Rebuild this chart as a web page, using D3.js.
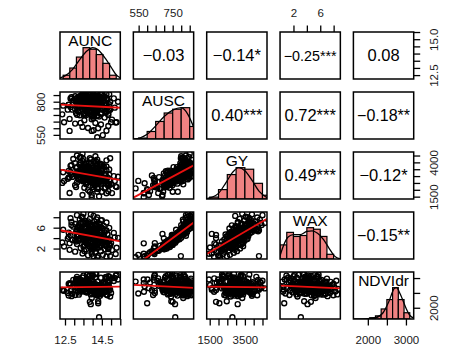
<!DOCTYPE html>
<html>
<head>
<meta charset="utf-8">
<script src="https://cdn.jsdelivr.net/npm/d3@7"></script>
<style>
  body { margin: 0; background: #fff; }
  svg { display: block; }
  text { font-family: "Liberation Sans", Arial, sans-serif; }
</style>
</head>
<body>
<svg id="chart" width="474" height="353"></svg>
<script>
// variable names on the diagonal
const varNames = ["AUNC", "AUSC", "GY", "WAX", "NDVIdr"];

const aunc = [14.25, 14.75, 14.05, 14.95, 13.75, 14.55, 15.25, 13.45, 14.15, 14.85, 13.05, 14.45, 13.95, 15.05, 12.75, 13.65, 14.65, 14.15, 13.35, 15.3,
  14.35, 13.85, 12.45, 14.75, 14.05, 14.95, 13.55, 14.25, 13.15, 14.55, 12.75, 15.0, 14.35, 13.6, 14.0, 13.1, 14.7, 13.8, 14.3, 12.9,
  14.9, 13.5, 14.1, 13.3, 14.5, 13.9, 15.2, 12.7, 14.2, 13.7, 14.6, 13.2, 14.0, 14.8, 13.4, 13.95, 14.15, 13.45, 12.7, 14.4,
  13.65, 13.95, 13.15, 14.75, 13.75, 12.4, 14.25, 13.35, 14.05, 14.9, 13.55, 14.45, 12.95, 13.85, 14.6, 13.25, 14.15, 13.85, 13.95, 13.05,
  14.35, 13.45, 14.75, 12.85, 14.1, 13.6, 14.5, 13.3, 13.85, 12.8, 14.25, 13.4, 14.05, 13.15, 13.9, 13.5, 14.15, 13.85, 14.45, 13.25,
  14.85, 14.0, 13.55, 14.7, 12.35, 15.38, 13.95, 14.3, 13.75, 14.1,
  14.05, 14.45, 13.6, 14.6, 13.4, 14.1, 13.65, 14.25, 13.5, 14.15, 14.85, 13.2, 14.2, 13.7, 14.35, 13.8, 13.5, 14.8, 13.65, 14.25,
  13.05, 13.9, 14.55, 13.3, 14.0, 14.35, 13.6, 14.65, 13.15, 14.15, 13.7, 14.45, 13.75, 14.0, 13.3, 14.9, 13.6, 14.15, 13.95, 14.2,
  12.8, 14.9, 13.35, 14.1, 13.7, 14.25, 13.25, 14.6, 13.8, 14.05, 13.55, 14.35, 13.8, 14.25, 13.45, 15.15, 13.1, 14.2, 13.9, 14.0,
  12.65, 14.55, 13.45, 14.15, 13.55, 14.7, 13.2, 14.8, 13.85, 14.2, 13.55, 14.45, 12.85, 14.25, 13.75, 14.15, 13.65, 14.45, 13.2, 13.85,
  14.9, 13.5, 14.25, 13.65, 14.65, 13.4, 13.9, 14.1, 14.4, 13.45, 14.15, 13.15, 14.7, 13.85, 14.2, 13.7, 14.0, 13.45, 14.45, 13.9];
const ausc = [532, 581, 585, 798, 602, 548, 643, 610, 640, 617, 635, 628, 668, 665, 670, 700, 680, 715, 640, 645,
  688, 733, 645, 722, 676, 740, 750, 694, 702, 741, 580, 645, 765, 710, 755, 715, 720, 772, 742, 740,
  748, 790, 748, 698, 780, 764, 755, 776, 771, 752, 828, 763, 745, 812, 815, 690, 776, 820, 778, 834,
  785, 812, 820, 824, 826, 770, 845, 818, 800, 856, 852, 810, 810, 848, 843, 838, 800, 750, 842, 841,
  825, 850, 858, 835, 812, 846, 858, 810, 852, 825, 860, 835, 856, 828, 859, 840, 735, 795, 705, 750,
  710, 815, 660, 780, 705, 800, 580, 600, 745, 790,
  690, 715, 742, 780, 795, 820, 805, 838, 770, 728, 700, 732, 788, 812, 826, 850, 708, 755, 778, 800,
  745, 822, 752, 820, 700, 785, 830, 832, 775, 745, 722, 770, 855, 796, 795, 738, 762, 838, 690, 808,
  760, 780, 845, 725, 802, 828, 725, 810, 818, 755, 700, 842, 775, 733, 825, 825, 795, 858, 740, 787,
  740, 830, 792, 770, 850, 732, 812, 818, 820, 748, 803, 777, 822, 695, 768, 812, 735, 856, 770, 826,
  765, 805, 760, 848, 745, 783, 835, 710, 795, 860, 775, 800, 770, 800, 843, 738, 812, 765, 828, 788];
const gy = [2100, 1750, 2480, 4300, 1980, 2650, 2250, 1620, 2870, 1900, 2330, 3050, 2560, 1760, 2920, 2400, 2100, 3230, 2750, 2200,
  1520, 2980, 2640, 3400, 2050, 2690, 3150, 1860, 2530, 2890, 1770, 2420, 2790, 3350, 2610, 2200, 3050, 3480, 2470, 2940,
  2330, 3600, 2760, 3200, 1860, 3090, 2650, 3380, 2980, 2520, 3700, 2860, 3240, 2400, 3450, 1620, 3100, 3650, 2900, 3900,
  2700, 3350, 3020, 4150, 3550, 3280, 2850, 4000, 2620, 3480, 3800, 3150, 4250, 3000, 3700, 2760, 4450, 1860, 3600, 3950,
  3300, 4630, 3700, 3100, 4100, 3450, 3850, 4350, 3200, 3750, 4200, 3550, 2950, 4500, 3900, 3350, 2880, 3300, 2580, 3150,
  2300, 3750, 2150, 2700, 2500, 2950, 1456, 2050, 2780, 3080,
  2700, 2450, 3100, 2900, 3550, 3350, 3900, 3600, 2600, 3000, 2300, 3250, 2750, 3700, 3050, 4000, 2850, 2500, 3400, 2950,
  3150, 4200, 2650, 3800, 2200, 3250, 3450, 2800, 3650, 2550, 3300, 3000, 3750, 2700, 3950, 2400, 2900, 3500, 2600, 3200,
  3300, 3100, 4400, 2350, 3050, 3850, 2750, 2650, 3400, 3650, 3000, 3300, 2850, 2500, 4100, 3000, 3600, 3750, 2950, 3450,
  2800, 3550, 2650, 3150, 3900, 2150, 3350, 2900, 4300, 2600, 3700, 2450, 3800, 2750, 3200, 3950, 2550, 3450, 3050, 3600,
  2700, 4250, 3350, 3100, 2850, 3500, 2950, 2300, 3800, 3650, 2900, 3250, 3150, 2600, 4050, 3400, 3000, 2700, 3700, 3300];
const wax = [0.33, 0.45, 0.52, 0.55, 0.7, 0.8, 0.95, 1.05, 1.2, 1.3, 1.4, 1.5, 1.6, 1.7, 1.75, 1.85, 1.9, 2.0, 2.1, 2.15,
  2.2, 2.3, 2.4, 2.45, 2.55, 2.6, 2.7, 2.8, 2.85, 2.95, 3.0, 3.05, 3.1, 3.2, 3.3, 3.35, 3.45, 3.5, 3.6, 3.65,
  3.75, 3.8, 3.9, 3.95, 4.0, 4.1, 4.15, 4.25, 4.3, 4.4, 4.45, 4.55, 4.6, 4.7, 4.75, 4.8, 4.9, 5.0, 5.05, 5.15,
  5.2, 5.3, 5.4, 5.45, 5.55, 5.6, 5.7, 5.8, 5.85, 5.95, 6.0, 6.1, 6.2, 6.3, 6.35, 6.45, 6.5, 4.6, 6.6, 6.7,
  6.8, 6.9, 7.0, 7.1, 7.2, 7.3, 7.45, 7.55, 7.7, 7.8, 7.95, 8.1, 8.25, 8.4, 8.55, 8.67, 3.4, 5.1, 2.5, 4.5,
  2.05, 5.75, 1.55, 3.85, 3.15, 4.05, 1.0, 0.62, 3.55, 4.85,
  2.1, 2.6, 3.3, 3.9, 4.6, 5.4, 5.9, 6.4, 4.2, 2.9, 1.9, 3.7, 4.9, 5.2, 6.0, 6.8, 2.4, 3.1, 4.4, 5.0,
  3.6, 5.7, 3.4, 6.2, 2.0, 4.7, 5.8, 5.1, 4.3, 3.2, 2.8, 4.0, 7.2, 4.8, 5.5, 2.7, 3.8, 6.6, 2.2, 5.3,
  4.5, 3.7, 6.9, 3.0, 4.9, 6.1, 3.5, 4.6, 5.6, 3.9, 2.5, 6.7, 4.1, 3.2, 5.9, 5.0, 5.2, 7.6, 3.3, 4.6,
  3.9, 5.8, 4.4, 4.2, 7.0, 2.6, 6.0, 4.8, 5.5, 3.6, 5.1, 4.3, 6.5, 2.3, 4.0, 5.6, 3.1, 7.4, 4.7, 6.3,
  3.4, 5.3, 3.8, 6.9, 2.9, 4.5, 6.2, 2.7, 5.0, 8.0, 4.1, 5.7, 3.5, 4.9, 6.6, 3.0, 5.4, 3.7, 6.1, 4.6];
const ndvi = [2880, 2540, 2720, 2610, 2950, 2480, 3080, 2660, 3020, 2850, 2430, 2590, 2740, 2990, 2790, 2520, 2810, 2690, 2930, 3110,
  2760, 2640, 2570, 2450, 2870, 2380, 2730, 2600, 2700, 2680, 2830, 2500, 1680, 2780, 2650, 2960, 2560, 2900, 2220, 2470,
  3050, 2710, 2620, 2890, 2670, 2120, 3000, 2800, 2690, 2530, 2840, 2640, 3070, 2420, 2750, 2610, 2700, 2550, 2410, 2400,
  2660, 2330, 2970, 3040, 2720, 2580, 2490, 2820, 2630, 2920, 2770, 2540, 2940, 2600, 2710, 2440, 2680, 2200, 2570, 2860,
  2460, 2650, 2980, 2390, 2590, 2740, 2500, 2870, 2560, 2780, 2420, 2690, 2550, 2910, 2450, 2630, 3145, 3090, 3010, 2960,
  3060, 3120, 2900, 3030, 2600, 2950, 2950, 2150, 2880, 2760,
  2760, 2580, 2850, 2640, 2700, 2520, 2790, 2610, 3080, 2480, 2710, 2820, 2560, 2680, 2450, 2740, 2620, 2880, 2530, 2770,
  2690, 2600, 2840, 2510, 2650, 2720, 2900, 2580, 2760, 2630, 3110, 2470, 2700, 2820, 2600, 2690, 2560, 2790, 2650, 2430,
  2560, 2600, 2850, 2740, 2520, 2680, 2790, 2560, 3060, 2620, 2700, 2480, 2830, 2650, 2740, 2900, 2880, 2620, 2510, 2770,
  2500, 2640, 3020, 2580, 2690, 2820, 2550, 2730, 2660, 3130, 2610, 2700, 2600, 2540, 2850, 2470, 2720, 2630, 2800, 2690,
  2850, 2760, 2640, 2880, 2710, 2590, 2750, 2680, 2520, 2800, 2620, 3040, 2660, 2730, 2570, 2850, 2690, 2610, 2780, 2700];

// upper panels: correlation with significance stars (row by row)
const corText = ["\u22120.03", "\u22120.14*", "\u22120.25***", "0.08",
  "0.40***", "0.72***", "\u22120.18**",
  "0.49***", "\u22120.12*",
  "\u22120.15**"];

// diagonal histograms (bar heights relative to the tallest bar)
const histBreaks = [
  [12.4, 12.76, 13.12, 13.48, 13.84, 14.2, 14.56, 14.92, 15.28],
  [550, 600, 650, 700, 750, 800, 850, 900],
  [1500, 2000, 2500, 3000, 3500, 4000, 4500, 5000],
  [0, 1, 2, 3, 4, 5, 6, 7, 8],
  [2050, 2200, 2350, 2500, 2650, 2800, 2950, 3100]
];
const histHeights = [
  [0.12, 0.35, 0.7, 1.0, 0.95, 0.78, 0.5, 0.12],
  [0.03, 0.24, 0.56, 0.83, 0.95, 1.0, 0.4],
  [0.06, 0.3, 0.78, 1.0, 0.95, 0.5, 0.12],
  [0.45, 0.85, 0.72, 0.75, 1.0, 0.95, 0.72, 0.15],
  [0.04, 0.1, 0.32, 0.62, 1.0, 0.62, 0.2]
];
// density curves (relative to their maximum)
const densX = [
  [12.2, 12.5, 12.9, 13.3, 13.7, 14.0, 14.3, 14.7, 15.0, 15.3, 15.5],
  [519, 560, 600, 650, 700, 750, 800, 840, 875],
  [1330, 1600, 2000, 2400, 2800, 3150, 3500, 3900, 4300, 4760],
  [0, 0.5, 1.2, 2, 3, 4, 4.8, 5.6, 6.5, 7.3, 8.1, 9],
  [1610, 2000, 2200, 2400, 2550, 2700, 2750, 2850, 3000, 3100, 3205]
];
const densY = [
  [0.03, 0.1, 0.3, 0.62, 0.9, 1.0, 0.93, 0.65, 0.38, 0.12, 0.04],
  [0.0, 0.04, 0.15, 0.42, 0.72, 0.92, 1.0, 0.78, 0.35],
  [0.01, 0.05, 0.18, 0.5, 0.85, 1.0, 0.9, 0.6, 0.25, 0.04],
  [0.1, 0.42, 0.7, 0.78, 0.78, 0.88, 0.9, 0.82, 0.62, 0.35, 0.1, 0.0],
  [0.0, 0.01, 0.04, 0.2, 0.55, 0.98, 1.0, 0.8, 0.35, 0.12, 0.03]
];

// axis ticks and which of them carry a label, per side
const tickVals = [
  [12.5, 13, 13.5, 14, 14.5, 15, 15.5],
  [550, 600, 650, 700, 750, 800, 850],
  [1500, 2000, 2500, 3000, 3500, 4000, 4500],
  [2, 4, 6, 8],
  [2000, 2500, 3000]
];
const topLabels = [null, ["550", "750"], null, ["2", "6"], null];
const bottomLabels = [["12.5", "14.5"], null, ["1500", "3500"], null, ["2000", "3000"]];
const leftLabels = [null, ["550", "800"], null, ["2", "6"], null];
const rightLabels = [["12.5", "15.0"], null, ["1500", "4000"], null, ["2000"]];

const vars = [aunc, ausc, gy, wax, ndvi],
    n = vars.length,
    svg = d3.select("#chart"),
    padL = 60, padT = 32,
    pw = 60.3, ph = 47,
    stepX = 73.35, stepY = 60,
    histCol = "#F08282";

function padDomain(v) {
    const [lo, hi] = d3.extent(v), pad = (hi - lo) * 0.04;
    return [lo - pad, hi + pad];
}
const xs = vars.map((v, i) => d3.scaleLinear().domain(padDomain(v))
    .range([padL + i * stepX, padL + i * stepX + pw]));
const ys = vars.map((v, i) => d3.scaleLinear().domain(padDomain(v))
    .range([padT + i * stepY + ph, padT + i * stepY]));

function lm(x, y) {
    const mx = d3.mean(x), my = d3.mean(y);
    let sxy = 0, sxx = 0;
    x.forEach((v, k) => { sxy += (v - mx) * (y[k] - my); sxx += (v - mx) * (v - mx); });
    const b = sxy / sxx;
    return [my - b * mx, b];
}

const defs = svg.append("defs");
let corIdx = 0;

for (let i = 0; i < n; i++) {
    for (let j = 0; j < n; j++) {
        const px = padL + j * stepX, py = padT + i * stepY;
        const id = `clip-${i}-${j}`;
        defs.append("clipPath").attr("id", id)
            .append("rect").attr("x", px).attr("y", py).attr("width", pw).attr("height", ph);
        const g = svg.append("g").attr("clip-path", `url(#${id})`);
        const x = xs[j], y = ys[i];

        if (i === j) {
            // histogram + density, y range 0..1.5 like pairs.panels
            const hy = d3.scaleLinear().domain([0, 1.5]).range([py + ph, py]);
            const br = histBreaks[i];
            g.selectAll("rect.bar")
                .data(histHeights[i])
                .enter().append("rect")
                .attr("class", "bar")
                .attr("x", (d, k) => x(br[k]))
                .attr("width", (d, k) => x(br[k + 1]) - x(br[k]))
                .attr("y", d => hy(d))
                .attr("height", d => hy(0) - hy(d))
                .attr("fill", histCol)
                .attr("stroke", "#000")
                .attr("stroke-width", 1.2);
            const line = d3.line()
                .x(d => x(d[0])).y(d => hy(d[1]))
                .curve(d3.curveMonotoneX);
            g.append("path")
                .datum(densX[i].map((v, k) => [v, densY[i][k]]))
                .attr("d", line)
                .attr("fill", "none")
                .attr("stroke", "#000")
                .attr("stroke-width", 1.3);
            svg.append("text")
                .attr("x", px + pw / 2)
                .attr("y", py + 13.5)
                .attr("text-anchor", "middle")
                .attr("font-size", 15.5)
                .text(varNames[i]);
        } else if (i > j) {
            const xv = vars[j], yv = vars[i];
            g.selectAll("circle")
                .data(xv.map((v, k) => [v, yv[k]]))
                .enter().append("circle")
                .attr("cx", d => x(d[0]))
                .attr("cy", d => y(d[1]))
                .attr("r", 2.5)
                .attr("fill", "none")
                .attr("stroke", "#000")
                .attr("stroke-width", 1.35);
            const [a, b] = lm(xv, yv), dom = x.domain();
            g.append("line")
                .attr("x1", x(dom[0])).attr("y1", y(a + b * dom[0]))
                .attr("x2", x(dom[1])).attr("y2", y(a + b * dom[1]))
                .attr("stroke", "#E8100F")
                .attr("stroke-width", 1.8);
        } else {
            const t = svg.append("text")
                .attr("x", px + pw / 2)
                .attr("y", py + ph / 2)
                .attr("dy", "0.36em")
                .attr("text-anchor", "middle")
                .attr("font-size", 16.5)
                .text(corText[corIdx++]);
            const w = t.node().getComputedTextLength();
            if (w > pw * 0.88) t.attr("font-size", 16.5 * pw * 0.88 / w);
        }

        svg.append("rect")
            .attr("x", px).attr("y", py)
            .attr("width", pw).attr("height", ph)
            .attr("fill", "none")
            .attr("stroke", "#000")
            .attr("stroke-width", 1.5);
    }
}

// outer axes, alternating sides as in pairs()
function styleAxis(sel) {
    sel.select(".domain").remove();
    sel.selectAll(".tick line").attr("stroke", "#000").attr("stroke-width", 1.3);
    sel.selectAll("text").attr("font-size", 11.5).attr("fill", "#1a1a1a")
        .attr("font-family", "'Liberation Sans', Arial, sans-serif");
}
function fmt(labels) {
    return d => {
        const hit = labels.find(s => +s === d);
        return hit === undefined ? "" : hit;
    };
}
const bottomY = padT + (n - 1) * stepY + ph,
    rightX = padL + (n - 1) * stepX + pw;

for (let j = 0; j < n; j++) {
    if (topLabels[j]) {
        svg.append("g").attr("transform", `translate(0,${padT})`)
            .call(d3.axisTop(xs[j]).tickValues(tickVals[j]).tickSize(6.5).tickPadding(8.8).tickFormat(fmt(topLabels[j])))
            .call(styleAxis);
    }
    if (bottomLabels[j]) {
        svg.append("g").attr("transform", `translate(0,${bottomY})`)
            .call(d3.axisBottom(xs[j]).tickValues(tickVals[j]).tickSize(6.5).tickPadding(10).tickFormat(fmt(bottomLabels[j])))
            .call(styleAxis);
    }
}
for (let i = 0; i < n; i++) {
    if (leftLabels[i]) {
        svg.append("g").attr("transform", `translate(${padL},0)`)
            .call(d3.axisLeft(ys[i]).tickValues(tickVals[i]).tickSize(6.5).tickFormat(fmt(leftLabels[i])))
            .call(styleAxis)
            .selectAll("text")
            .attr("x", 0).attr("dy", 0)
            .attr("text-anchor", "middle")
            .attr("transform", "translate(-15.5,0) rotate(-90)");
    }
    if (rightLabels[i]) {
        svg.append("g").attr("transform", `translate(${rightX},0)`)
            .call(d3.axisRight(ys[i]).tickValues(tickVals[i]).tickSize(6.5).tickFormat(fmt(rightLabels[i])))
            .call(styleAxis)
            .selectAll("text")
            .attr("x", 0).attr("dy", 0)
            .attr("text-anchor", "middle")
            .attr("transform", "translate(24.5,0) rotate(-90)");
    }
}
</script>
</body>
</html>
